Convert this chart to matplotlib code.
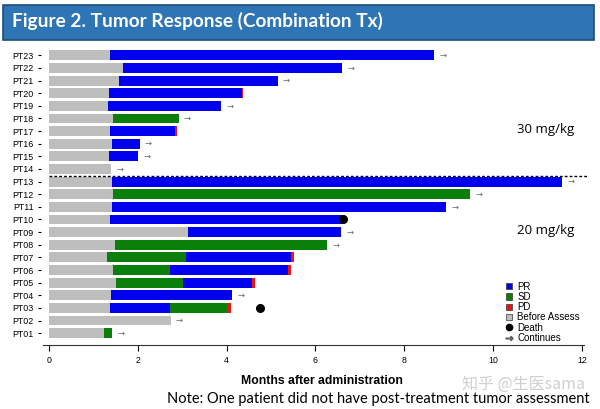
import matplotlib.pyplot as plt
from matplotlib.lines import Line2D
from matplotlib.patches import Patch, Rectangle

plt.rcParams["font.family"] = ["Liberation Sans", "DejaVu Sans"]

# patients from bottom to top
patients = ["PT01", "PT02", "PT03", "PT04", "PT05", "PT06", "PT07", "PT08",
            "PT09", "PT10", "PT11", "PT12", "PT13", "PT14", "PT15", "PT16",
            "PT17", "PT18", "PT19", "PT20", "PT21", "PT22", "PT23"]
# end of "before assess" period (months)
before = [1.24, 2.74, 1.37, 1.39, 1.51, 1.44, 1.30, 1.48, 3.12, 1.37, 1.42, 1.44,
          1.42, 1.39, 1.35, 1.42, 1.37, 1.44, 1.33, 1.35, 1.57, 1.66, 1.37]
# response phases after assessment: (state, end month)
phases = [
    [("SD", 1.42)],
    [],
    [("PR", 2.72), ("SD", 4.02), ("PD", 4.09)],
    [("PR", 4.13)],
    [("SD", 3.01), ("PR", 4.58), ("PD", 4.65)],
    [("SD", 2.72), ("PR", 5.39), ("PD", 5.46)],
    [("SD", 3.08), ("PR", 5.44), ("PD", 5.51)],
    [("SD", 6.27)],
    [("PR", 6.58)],
    [("PR", 6.61)],
    [("PR", 8.94)],
    [("SD", 9.48)],
    [("PR", 11.55)],
    [],
    [("PR", 2.00)],
    [("PR", 2.04)],
    [("PR", 2.83), ("PD", 2.88)],
    [("SD", 2.92)],
    [("PR", 3.87)],
    [("PR", 4.34), ("PD", 4.38)],
    [("PR", 5.15)],
    [("PR", 6.61)],
    [("PR", 8.67)],
]
continues = ["PT01", "PT02", "PT04", "PT08", "PT09", "PT11", "PT12", "PT13",
             "PT14", "PT15", "PT16", "PT18", "PT19", "PT21", "PT22", "PT23"]
death_pt = ["PT10", "PT03"]
death_month = [6.62, 4.76]

colors = {"PR": "#0000ee", "SD": "#0a800a", "PD": "#ee1111", "BA": "#bebebe"}

fig = plt.figure(figsize=(6, 4.09), dpi=100)

# header box
fig.patches.append(Rectangle((3 / 600, 1 - 40 / 409), 591 / 600, 35 / 409,
                             transform=fig.transFigure, facecolor="#2e75b6",
                             edgecolor="#1f4e79", linewidth=1.2))
fig.text(12 / 600, 1 - 21 / 409, "Figure 2. Tumor Response (Combination Tx)",
         color="white", fontsize=13.7, fontweight="bold", family="Lato",
         va="center", ha="left")

ax = fig.add_axes([49 / 600, 1 - 345 / 409, 545 / 600, 301 / 409])

for i, pt in enumerate(patients):
    ax.barh(i, before[i], left=0, height=0.78, color=colors["BA"])
    start = before[i]
    end = before[i]
    for state, end in phases[i]:
        ax.barh(i, end - start, left=start, height=0.78, color=colors[state])
        start = end
    if pt in continues:
        ax.text(end + 0.12, i, "→", fontsize=6, color="#666666",
                va="center", ha="left", family="DejaVu Sans")

for pt, m in zip(death_pt, death_month):
    ax.plot(m, patients.index(pt), "o", color="black", markersize=5.5)

ax.plot([0, 12.15], [12.45, 12.45], ls=(0, (2, 1.5)), color="black", lw=1)

ax.text(11.83, 16.1, "30 mg/kg", fontsize=9.5, family="Open Sans", ha="right", va="center")
ax.text(11.83, 8.1, "20 mg/kg", fontsize=9.5, family="Open Sans", ha="right", va="center")

ax.set_xlim(0, 545 / 44.4)
ax.set_ylim(-0.94, 22.9)
ax.set_yticks(range(len(patients)), labels=patients)
ax.set_xticks(range(0, 13, 2), labels=[str(v) for v in range(0, 13, 2)])
for s in ["top", "right"]:
    ax.spines[s].set_visible(False)
ax.spines["left"].set_position(("outward", 5.5))
ax.spines["left"].set_visible(False)
ax.spines["bottom"].set_bounds(-0.13, 12.05)
ax.spines["bottom"].set_color("#333333")
ax.tick_params(axis="y", length=2.5, width=0.8, pad=3, labelsize=6.4)
ax.tick_params(axis="x", length=4, width=0.8, pad=4, labelsize=6.3)
ax.set_xlabel("Months after administration", fontsize=8.8, fontweight="bold",
              labelpad=7)

handles = [
    Patch(facecolor=colors["PR"], edgecolor="#333333", lw=0.5, label="PR"),
    Patch(facecolor=colors["SD"], edgecolor="#333333", lw=0.5, label="SD"),
    Patch(facecolor=colors["PD"], edgecolor="#333333", lw=0.5, label="PD"),
    Patch(facecolor=colors["BA"], edgecolor="#333333", lw=0.5, label="Before Assess"),
    Line2D([], [], marker="o", color="black", ls="none", markersize=4.5, label="Death"),
    Line2D([], [], marker=r"$\rightarrow$", color="#666666", ls="none", markersize=5,
           label="Continues"),
]
leg = ax.legend(handles=handles, loc="lower right", bbox_to_anchor=(0.985, -0.012),
                frameon=False, handlelength=0.6, handleheight=0.6,
                handletextpad=0.6, labelspacing=0.02, borderaxespad=0.2,
                prop={"size": 7})

fig.text(585 / 600, 1 - 384 / 409, "知乎 @生医sama", color="#cfcfcf", fontsize=11.5,
         family=["Noto Sans CJK SC", "DejaVu Sans"], ha="right", va="center")
fig.text(590 / 600, 1 - 399 / 409,
         "Note: One patient did not have post-treatment tumor assessment",
         fontsize=10.5, family="Lato", ha="right", va="center")

fig.savefig("out.png", dpi=100)
